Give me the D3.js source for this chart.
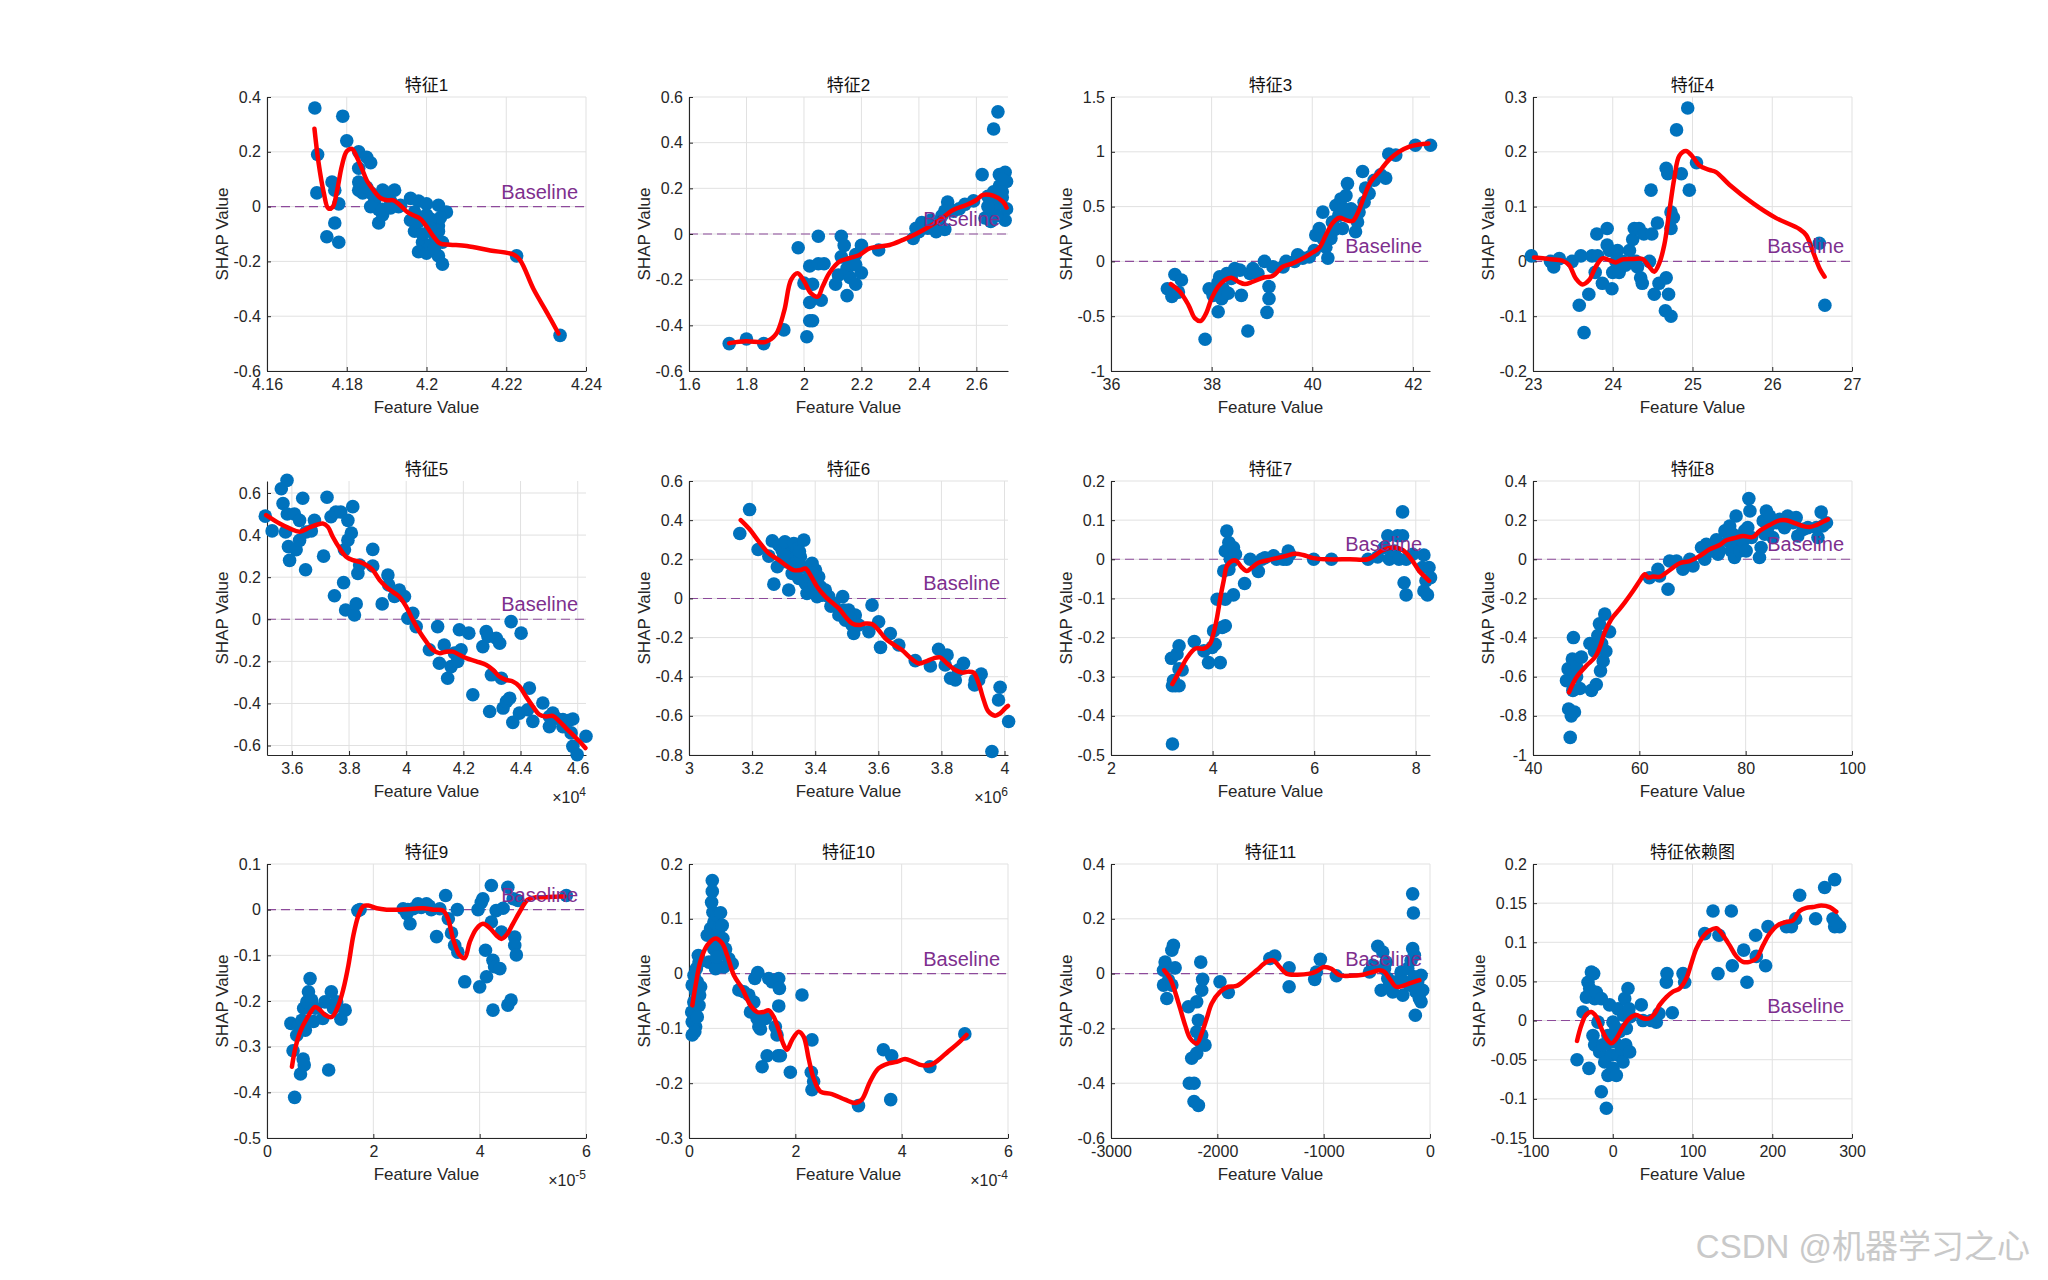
<!DOCTYPE html>
<html>
<head>
<meta charset="utf-8">
<script src="https://cdn.jsdelivr.net/npm/d3@7"></script>
<style>
  body { margin: 0; background: #fff; }
  text { font-family: "Liberation Sans", Arial, "Noto Sans CJK SC", sans-serif; }
</style>
</head>
<body>
<div id="canvas"></div>
<script>
"use strict"

let drawingWidth = 2048;
let drawingHeight = 1280;

/* panel titles, axis ranges and tick labels */
let panelTitles = ["特征1", "特征2", "特征3", "特征4", "特征5", "特征6",
    "特征7", "特征8", "特征9", "特征10", "特征11", "特征依赖图"];

let xDomains = [[4.16, 4.24], [1.6, 2.71], [36, 42.34], [23, 27],
    [3.513, 4.629], [3, 4.011], [2, 8.28], [40, 100],
    [0, 6], [0, 6], [-3000, 0], [-100, 300]];
let yDomains = [[-0.6, 0.4], [-0.6, 0.6], [-1, 1.5], [-0.2, 0.3],
    [-0.645, 0.657], [-0.8, 0.6], [-0.5, 0.2], [-1, 0.4],
    [-0.5, 0.1], [-0.3, 0.2], [-0.6, 0.4], [-0.15, 0.2]];

let xTicks = [[4.16, 4.18, 4.2, 4.22, 4.24], [1.6, 1.8, 2, 2.2, 2.4, 2.6], [36, 38, 40, 42], [23, 24, 25, 26, 27],
    [3.6, 3.8, 4, 4.2, 4.4, 4.6], [3, 3.2, 3.4, 3.6, 3.8, 4], [2, 4, 6, 8], [40, 60, 80, 100],
    [0, 2, 4, 6], [0, 2, 4, 6], [-3000, -2000, -1000, 0], [-100, 0, 100, 200, 300]];
let yTicks = [[-0.6, -0.4, -0.2, 0, 0.2, 0.4], [-0.6, -0.4, -0.2, 0, 0.2, 0.4, 0.6], [-1, -0.5, 0, 0.5, 1, 1.5], [-0.2, -0.1, 0, 0.1, 0.2, 0.3],
    [-0.6, -0.4, -0.2, 0, 0.2, 0.4, 0.6], [-0.8, -0.6, -0.4, -0.2, 0, 0.2, 0.4, 0.6], [-0.5, -0.4, -0.3, -0.2, -0.1, 0, 0.1, 0.2], [-1, -0.8, -0.6, -0.4, -0.2, 0, 0.2, 0.4],
    [-0.5, -0.4, -0.3, -0.2, -0.1, 0, 0.1], [-0.3, -0.2, -0.1, 0, 0.1, 0.2], [-0.6, -0.4, -0.2, 0, 0.2, 0.4], [-0.15, -0.1, -0.05, 0, 0.05, 0.1, 0.15, 0.2]];

/* x axis multiplier (x 10^n), 0 means none */
let xExponents = [0, 0, 0, 0, 4, 6, 0, 0, -5, -4, 0, 0];

/* SHAP scatter points [feature value, shap value] */
let scatter1 = [[4.172,0.36],[4.1727,0.19],[4.1725,0.05],[4.1763,0.09],[4.177,0.06],[4.178,0.01],[4.177,-0.06],[4.175,-0.11],
    [4.178,-0.13],[4.179,0.33],[4.180,0.24],[4.183,0.20],[4.185,0.18],[4.186,0.16],[4.183,0.14],[4.183,0.09],[4.183,0.06],
    [4.184,0.05],[4.187,0.02],[4.188,-0.01],[4.188,-0.06],[4.189,-0.03],[4.189,0.06],[4.190,0.05],[4.192,0.06],[4.191,0.02],
    [4.193,0.0],[4.1935,0.005],[4.187,0.035],[4.186,0.05],[4.196,0.03],[4.198,0.02],[4.200,0.01],[4.196,-0.05],[4.197,-0.09],
    [4.198,-0.055],[4.199,-0.13],[4.198,-0.165],[4.200,-0.17],[4.201,-0.14],[4.202,-0.105],[4.203,-0.07],[4.203,0.005],
    [4.205,-0.02],[4.2035,-0.04],[4.203,-0.09],[4.204,-0.13],[4.203,-0.18],[4.204,-0.21],[4.202,-0.15],[4.197,-0.02],
    [4.201,-0.045],[4.186,0.0],[4.189,-0.01],[4.185,0.07],[4.191,-0.005],[4.199,-0.1],[4.201,-0.08],[4.2,-0.03],
    [4.2226,-0.18],[4.2335,-0.47]];
let scatter2 = [[1.74,-0.48],[1.80,-0.46],[1.86,-0.48],[1.93,-0.42],[1.98,-0.06],[2.01,-0.45],[2.02,-0.38],[2.03,-0.38],
    [2.02,-0.30],[2.00,-0.215],[2.02,-0.14],[2.03,-0.22],[2.05,-0.01],[2.06,-0.29],[2.05,-0.13],[2.07,-0.13],[2.13,-0.01],
    [2.14,-0.05],[2.13,-0.10],[2.12,-0.18],[2.15,-0.27],[2.16,-0.19],[2.18,-0.22],[2.18,-0.09],[2.20,-0.05],[2.20,-0.17],
    [2.15,-0.15],[2.11,-0.22],[2.16,-0.135],[2.18,-0.135],[2.26,-0.07],[2.38,-0.02],[2.40,0.01],[2.43,0.025],[2.45,0.04],
    [2.47,0.055],[2.49,0.02],[2.46,0.01],[2.50,0.14],[2.52,0.10],[2.54,0.11],[2.56,0.13],[2.59,0.145],[2.62,0.26],[2.63,0.07],
    [2.65,0.055],[2.66,0.1],[2.67,0.13],[2.68,0.26],[2.69,0.185],[2.70,0.27],[2.705,0.23],[2.705,0.11],[2.68,0.21],[2.69,0.16],
    [2.67,0.165],[2.70,0.06],[2.66,0.185],[2.675,0.535],[2.66,0.46],[2.39,0.025],[2.41,0.05],[2.49,0.10],[2.64,0.165],
    [2.64,0.12],[2.67,0.08],[2.69,0.24],[2.44,0.06],[2.48,0.08]];
let scatter3 = [[37.12,-0.25],[37.21,-0.32],[37.27,-0.12],[37.40,-0.17],[37.34,-0.28],[37.87,-0.71],[37.95,-0.25],[38.03,-0.31],
    [38.13,-0.46],[38.13,-0.19],[38.20,-0.34],[38.23,-0.25],[38.33,-0.29],[38.16,-0.14],[38.30,-0.11],[38.39,-0.155],
    [38.46,-0.065],[38.59,-0.31],[38.56,-0.08],[38.72,-0.635],[38.76,-0.11],[38.82,-0.065],[38.92,-0.11],[39.05,0.0],
    [39.14,-0.23],[39.14,-0.34],[39.10,-0.465],[39.22,-0.05],[39.42,-0.05],[39.48,0.0],[39.65,0.0],[39.71,0.06],[39.81,0.03],
    [39.94,0.04],[40.04,0.10],[40.07,0.24],[40.14,0.30],[40.21,0.45],[40.27,0.13],[40.31,0.03],[40.37,0.21],[40.40,0.36],
    [40.47,0.51],[40.57,0.57],[40.60,0.30],[40.67,0.60],[40.70,0.71],[40.73,0.42],[40.77,0.48],[40.86,0.27],[40.90,0.36],
    [41.03,0.54],[41.06,0.67],[41.00,0.82],[41.13,0.62],[41.23,0.74],[41.36,0.79],[41.46,0.76],[41.52,0.98],[41.66,0.97],
    [42.05,1.06],[42.35,1.06],[40.53,0.42],[40.63,0.48],[40.44,0.29],[40.21,0.21],[40.93,0.45]];
let scatter4 = [[22.98,0.01],[23.22,0.0],[23.26,-0.01],[23.33,0.005],[23.49,0.0],[23.60,0.01],[23.58,-0.08],[23.64,-0.13],
    [23.70,-0.06],[23.74,0.01],[23.78,-0.02],[23.80,0.05],[23.81,0.01],[23.87,-0.04],[23.93,0.06],[23.93,0.03],[23.96,0.02],
    [23.99,-0.05],[24.0,-0.02],[24.06,0.02],[24.08,-0.02],[24.12,0.0],[24.21,0.02],[24.25,0.04],[24.27,0.06],[24.31,-0.01],
    [24.33,0.06],[24.35,-0.03],[24.37,-0.04],[24.39,0.05],[24.48,0.13],[24.46,0.0],[24.49,0.05],[24.52,-0.06],[24.56,0.07],
    [24.58,-0.04],[24.67,-0.03],[24.67,0.17],[24.69,0.16],[24.66,-0.09],[24.70,-0.06],[24.73,0.09],[24.75,0.08],[24.73,-0.1],
    [24.73,0.06],[24.76,0.08],[24.80,0.24],[24.86,0.16],[24.94,0.28],[24.96,0.13],[25.05,0.18],[26.59,0.033],[26.66,-0.08],
    [24.04,0.0],[24.16,-0.007],[24.29,0.0]];
let scatter5 = [[3.507,0.49],[3.531,0.42],[3.563,0.62],[3.583,0.66],[3.569,0.55],[3.578,0.415],[3.584,0.50],[3.588,0.345],
    [3.592,0.28],[3.609,0.50],[3.615,0.33],[3.627,0.47],[3.638,0.575],[3.648,0.235],[3.650,0.415],[3.627,0.375],[3.668,0.42],
    [3.679,0.47],[3.711,0.30],[3.723,0.58],[3.737,0.487],[3.749,0.112],[3.754,0.51],[3.771,0.51],[3.781,0.174],[3.784,0.33],
    [3.788,0.044],[3.796,0.47],[3.796,0.376],[3.808,0.41],[3.813,0.535],[3.819,0.02],[3.825,0.073],[3.831,0.218],[3.837,0.258],
    [3.883,0.332],[3.883,0.253],[3.916,0.073],[3.936,0.21],[3.939,0.163],[3.959,0.108],[3.976,0.139],[3.994,0.108],[4.006,0.005],
    [4.023,0.028],[4.035,-0.035],[4.081,-0.145],[4.11,-0.035],[4.116,-0.209],[4.133,-0.122],[4.145,-0.28],[4.157,-0.225],
    [4.169,-0.161],[4.180,-0.2],[4.192,-0.145],[4.186,-0.05],[4.219,-0.066],[4.233,-0.359],[4.268,-0.13],[4.28,-0.058],
    [4.286,-0.082],[4.292,-0.438],[4.298,-0.264],[4.315,-0.09],[4.327,-0.114],[4.333,-0.28],[4.339,-0.422],[4.351,-0.39],
    [4.362,-0.375],[4.367,-0.011],[4.373,-0.49],[4.402,-0.066],[4.396,-0.446],[4.425,-0.43],[4.431,-0.327],[4.443,-0.485],
    [4.478,-0.398],[4.501,-0.462],[4.513,-0.446],[4.524,-0.47],[4.548,-0.477],[4.571,-0.48],[4.583,-0.474],[4.577,-0.54],
    [4.583,-0.604],[4.598,-0.643],[4.629,-0.556],[4.501,-0.51],[4.548,-0.51]];
let scatter6 = [[3.161,0.332],[3.192,0.454],[3.219,0.25],[3.253,0.216],[3.264,0.294],[3.269,0.073],[3.280,0.162],[3.285,0.272],
    [3.295,0.247],[3.304,0.289],[3.316,0.043],[3.311,0.187],[3.322,0.23],[3.327,0.128],[3.332,0.281],[3.338,0.179],[3.343,0.255],
    [3.348,0.102],[3.353,0.213],[3.359,0.162],[3.364,0.298],[3.369,0.077],[3.374,0.026],[3.380,0.111],[3.390,0.179],[3.396,0.068],
    [3.401,0.145],[3.406,0.009],[3.411,0.111],[3.417,0.06],[3.422,0.017],[3.432,0.043],[3.443,0.009],[3.459,-0.026],[3.475,-0.085],
    [3.487,0.009],[3.496,-0.111],[3.506,-0.06],[3.517,-0.136],[3.522,-0.179],[3.527,-0.085],[3.538,-0.136],[3.570,-0.17],
    [3.580,-0.034],[3.601,-0.119],[3.607,-0.25],[3.638,-0.179],[3.665,-0.238],[3.717,-0.318],[3.765,-0.345],[3.791,-0.26],
    [3.818,-0.289],[3.812,-0.34],[3.829,-0.408],[3.844,-0.417],[3.870,-0.332],[3.905,-0.442],[3.926,-0.386],[3.918,-0.417],
    [3.960,-0.782],[3.981,-0.519],[3.986,-0.454],[4.013,-0.629],[3.854,-0.366],[3.907,-0.417],[3.30,0.22],[3.35,0.24],
    [3.39,0.13],[3.45,-0.04],[3.49,-0.06],[3.51,-0.1]];
let scatter7 = [[3.19,-0.253],[3.21,-0.323],[3.27,-0.323],[3.34,-0.323],[3.23,-0.31],[3.30,-0.242],[3.34,-0.221],[3.40,-0.283],
    [3.34,-0.28],[3.21,-0.472],[3.64,-0.21],[3.83,-0.234],[3.92,-0.264],[3.99,-0.225],[4.02,-0.183],[4.05,-0.217],[4.09,-0.102],
    [4.15,-0.264],[4.19,-0.174],[4.25,-0.17],[4.25,-0.102],[4.22,-0.03],[4.25,0.021],[4.28,0.072],[4.32,0.043],[4.35,0.021],
    [4.38,-0.004],[4.41,0.03],[4.32,-0.026],[4.35,0.0],[4.41,-0.091],[4.45,0.013],[4.63,-0.062],[4.74,0.0],[4.90,-0.031],
    [4.97,0.0],[5.03,0.004],[5.20,0.009],[5.26,0.0],[5.39,0.0],[5.49,0.021],[5.46,0.0],[5.52,0.013],[5.99,0.0],[6.34,0.0],
    [7.06,0.0],[7.25,0.006],[7.45,0.06],[7.48,0.0],[7.58,0.021],[7.64,0.06],[7.74,0.06],[7.74,0.121],[7.67,0.0],[7.77,-0.06],
    [7.81,-0.091],[7.81,0.0],[7.94,0.013],[8.16,0.011],[8.16,-0.081],[8.20,-0.055],[8.23,-0.091],[8.26,-0.021],[8.29,-0.047],
    [8.13,-0.021],[7.38,0.03]];
let scatter8 = [[46.3,-0.62],[46.6,-0.56],[46.7,-0.765],[47.0,-0.91],[47.2,-0.80],[47.5,-0.67],[47.8,-0.78],[47.6,-0.40],
    [47.4,-0.51],[48.2,-0.55],[48.2,-0.60],[48.8,-0.66],[49.1,-0.50],[50.7,-0.43],[51.0,-0.67],[51.6,-0.47],[51.9,-0.64],
    [52.2,-0.39],[52.5,-0.33],[52.7,-0.57],[52.9,-0.43],[53.2,-0.52],[53.5,-0.28],[53.7,-0.47],[54.4,-0.37],[61.9,-0.094],
    [63.5,-0.051],[63.8,-0.085],[65.4,-0.153],[65.7,-0.009],[67.0,-0.009],[68.2,-0.051],[69.5,0.0],[70.1,-0.034],[71.7,0.06],
    [72.3,0.0],[72.6,0.077],[73.5,0.043],[74.5,0.10],[74.8,0.026],[75.1,0.043],[76.1,0.145],[76.7,0.094],[77.0,0.17],[77.3,0.043],
    [77.6,0.128],[77.9,0.009],[78.2,0.221],[78.6,0.077],[78.9,0.043],[79.5,0.094],[79.8,0.145],[80.1,0.043],[80.6,0.31],
    [80.8,0.247],[80.4,0.162],[81.1,0.111],[82.6,0.009],[82.9,0.06],[83.3,0.196],[83.6,0.128],[83.9,0.247],[84.2,0.162],
    [84.5,0.221],[85.1,0.111],[85.8,0.187],[86.4,0.204],[87.3,0.162],[87.9,0.221],[88.9,0.187],[89.5,0.213],[89.8,0.119],
    [90.8,0.153],[91.7,0.162],[93.3,0.162],[93.6,0.111],[94.2,0.241],[95.2,0.187],[94.5,0.17]];
let scatter9 = [[0.45,-0.249],[0.49,-0.309],[0.52,-0.411],[0.56,-0.275],[0.59,-0.253],[0.63,-0.36],[0.66,-0.242],[0.68,-0.327],
    [0.70,-0.34],[0.69,-0.216],[0.72,-0.264],[0.75,-0.202],[0.78,-0.18],[0.81,-0.151],[0.84,-0.198],[0.875,-0.245],[0.906,-0.216],
    [1.05,-0.238],[1.09,-0.202],[1.16,-0.351],[1.21,-0.18],[1.25,-0.216],[1.31,-0.202],[1.39,-0.24],[1.47,-0.22],[1.71,-0.002],
    [1.75,0.0],[2.56,0.002],[2.63,-0.009],[2.69,-0.031],[2.75,0.002],[2.84,0.013],[3.0,0.013],[3.09,0.0],[3.19,-0.059],[3.25,0.002],
    [3.36,0.031],[3.41,-0.02],[3.47,-0.051],[3.53,-0.078],[3.58,0.0],[3.59,-0.093],[3.72,-0.158],[3.97,0.0],[4.0,-0.169],
    [4.03,0.016],[4.06,0.024],[4.11,-0.089],[4.13,-0.147],[4.22,0.053],[4.22,-0.027],[4.25,-0.111],[4.25,-0.22],[4.28,-0.125],
    [4.31,-0.002],[4.38,-0.129],[4.41,-0.049],[4.44,0.003],[4.53,0.049],[4.53,-0.209],[4.59,-0.198],[4.63,0.024],[4.66,-0.06],
    [4.66,-0.078],[4.69,-0.099],[4.72,0.02],[5.63,0.031],[2.9,0.005],[3.05,0.008],[2.65,0.0]];
let scatter10 = [[0.06,-0.112],[0.06,-0.088],[0.05,-0.07],[0.09,-0.052],[0.125,-0.033],[0.156,-0.015],[0.094,-0.003],[0.138,0.009],
    [0.188,0.021],[0.175,0.033],[0.125,-0.097],[0.156,-0.079],[0.188,-0.058],[0.2,-0.039],[0.06,-0.021],[0.11,-0.106],[0.219,-0.024],
    [0.438,0.17],[0.438,0.15],[0.425,0.13],[0.45,0.112],[0.406,0.082],[0.469,0.094],[0.5,0.07],[0.531,0.106],[0.594,0.111],
    [0.563,0.082],[0.625,0.088],[0.638,0.064],[0.469,0.045],[0.563,0.039],[0.656,0.012],[0.688,0.045],[0.75,0.027],[0.813,0.018],
    [0.375,0.021],[0.5,0.009],[0.344,0.07],[0.938,-0.03],[1.031,-0.033],[1.125,-0.039],[1.156,-0.07],[1.219,-0.052],[1.238,-0.009],
    [1.294,0.002],[1.281,-0.082],[1.313,-0.097],[1.344,-0.101],[1.375,-0.17],[1.438,-0.082],[1.469,-0.15],[1.5,-0.009],
    [1.563,-0.015],[1.625,-0.097],[1.656,-0.112],[1.688,-0.009],[1.7,-0.027],[1.688,-0.059],[1.675,-0.15],[1.719,-0.15],
    [1.906,-0.18],[2.125,-0.039],[2.313,-0.121],[2.3,-0.18],[2.313,-0.212],[2.344,-0.197],[3.188,-0.241],[3.656,-0.139],
    [3.813,-0.15],[3.794,-0.23],[4.531,-0.17],[5.188,-0.11],[0.45,0.05],[0.52,0.03],[0.6,0.06]];
let scatter11 = [[-2506,0.012],[-2506,-0.042],[-2491,0.042],[-2475,-0.091],[-2459,-0.024],[-2428,0.085],[-2413,0.103],[-2397,0.021],
    [-2428,-0.042],[-2272,-0.121],[-2263,-0.4],[-2219,-0.4],[-2241,-0.309],[-2219,-0.467],[-2194,-0.291],[-2178,-0.481],
    [-2194,-0.103],[-2194,-0.212],[-2178,-0.17],[-2163,-0.248],[-2156,0.042],[-2147,-0.061],[-2147,-0.224],[-2138,-0.021],
    [-2116,-0.261],[-1975,-0.03],[-1897,-0.069],[-1506,0.055],[-1459,0.064],[-1325,0.021],[-1325,-0.048],[-1084,-0.021],
    [-1069,0.006],[-1031,0.052],[-881,-0.008],[-569,0.006],[-491,0.1],[-444,0.079],[-459,-0.061],[-428,0.018],[-413,0.042],
    [-397,-0.018],[-381,-0.042],[-350,-0.067],[-319,-0.03],[-272,0.006],[-256,-0.079],[-241,-0.03],[-209,0.018],[-194,-0.042],
    [-178,0.048],[-163,0.091],[-163,0.291],[-156,0.221],[-147,-0.012],[-131,-0.067],[-138,-0.152],[-116,-0.03],[-100,-0.091],
    [-84,-0.006],[-69,-0.061],[-84,-0.103],[-147,0.067],[-538,0.03]];
let scatter12 = [[-44.8,-0.05],[-37.3,0.011],[-29.8,-0.061],[-31.0,0.049],[-26.8,0.062],[-23.9,0.06],[-28.9,0.041],[-33.1,0.03],
    [-26.8,0.036],[-22.7,0.028],[-20.6,0.036],[-24.8,-0.019],[-22.7,-0.031],[-18.5,-0.002],[-14.3,0.028],[-14.3,-0.091],
    [-16.4,-0.04],[-12.2,-0.031],[-8.0,-0.112],[-10.1,-0.053],[-6.0,-0.019],[-6.0,-0.07],[-3.9,0.02],[-1.8,-0.044],[0.3,-0.061],
    [0.3,-0.002],[2.4,-0.027],[4.5,-0.07],[6.6,0.015],[6.6,-0.044],[8.7,-0.014],[10.8,-0.036],[12.9,-0.053],[13.7,0.007],
    [15.0,0.028],[16.2,-0.031],[17.0,-0.01],[19.1,0.041],[21.2,-0.04],[20.4,0.015],[22.0,0.005],[35.8,0.02],[37.9,0.0],
    [48.4,0.0],[54.6,-0.002],[58.0,0.009],[67.2,0.049],[68.0,0.06],[74.7,0.01],[88.1,0.06],[90.2,0.049],[115.3,0.111],
    [125.7,0.14],[132.0,0.06],[133.2,0.109],[148.7,0.14],[149.9,0.07],[164.2,0.09],[168.3,0.049],[179.2,0.109],[180.0,0.082],
    [191.7,0.07],[194.7,0.12],[217.7,0.12],[224.0,0.12],[229.4,0.13],[234.4,0.16],[254.4,0.13],[265.7,0.17],[276.2,0.13],
    [278.3,0.18],[278.3,0.12],[284.5,0.12],[280.3,0.125],[-2,-0.02],[-8,-0.03],[4,-0.01]];

/* smoothed trend */
let trend1 = [[4.1719,0.284],[4.1729,0.163],[4.1742,0.053],[4.1754,-0.007],[4.1765,-0.001],[4.1775,0.053],[4.1788,0.15],
    [4.18,0.202],[4.1813,0.211],[4.1825,0.181],[4.1838,0.139],[4.185,0.096],[4.1867,0.06],[4.1884,0.032],[4.1901,0.023],
    [4.1917,0.023],[4.1934,0.005],[4.1951,-0.019],[4.1967,-0.032],[4.1984,-0.044],[4.2001,-0.074],[4.2018,-0.11],
    [4.2034,-0.135],[4.2059,-0.139],[4.2101,-0.144],[4.216,-0.16],[4.2218,-0.175],[4.2235,-0.196],[4.2268,-0.3],
    [4.2301,-0.384],[4.2331,-0.463]];
let trend2 = [[1.74,-0.478],[1.798,-0.47],[1.867,-0.472],[1.902,-0.44],[1.931,-0.338],[1.955,-0.201],[1.978,-0.172],
    [2.001,-0.208],[2.024,-0.259],[2.048,-0.274],[2.065,-0.23],[2.088,-0.172],[2.123,-0.121],[2.158,-0.106],[2.193,-0.092],
    [2.228,-0.063],[2.263,-0.055],[2.298,-0.048],[2.344,-0.026],[2.379,-0.007],[2.426,0.025],[2.472,0.061],[2.519,0.105],
    [2.565,0.127],[2.6,0.149],[2.623,0.171],[2.658,0.168],[2.693,0.141],[2.705,0.115]];
let trend3 = [[37.19,-0.207],[37.37,-0.277],[37.54,-0.398],[37.67,-0.52],[37.78,-0.544],[37.89,-0.474],[38.0,-0.337],
    [38.13,-0.231],[38.26,-0.17],[38.39,-0.149],[38.53,-0.185],[38.66,-0.207],[38.82,-0.185],[39.02,-0.149],[39.22,-0.131],
    [39.41,-0.049],[39.61,-0.018],[39.81,0.027],[40.01,0.082],[40.14,0.125],[40.27,0.24],[40.4,0.347],[40.54,0.398],
    [40.67,0.377],[40.8,0.368],[40.9,0.438],[41.03,0.59],[41.16,0.727],[41.33,0.817],[41.52,0.924],[41.72,1.0],[41.92,1.046],
    [42.12,1.067],[42.31,1.076]];
let trend4 = [[23.013,0.0073],[23.2,0.0043],[23.369,0.0012],[23.452,-0.0067],[23.536,-0.031],[23.62,-0.042],[23.704,-0.034],
    [23.787,-0.0097],[23.871,0.0055],[23.955,0.0024],[24.039,-0.0018],[24.123,0.0036],[24.248,0.0043],[24.374,0.0043],
    [24.458,-0.0097],[24.52,-0.0188],[24.583,-0.0036],[24.646,0.0298],[24.709,0.091],[24.772,0.1519],[24.835,0.193],
    [24.918,0.2016],[25.002,0.191],[25.086,0.175],[25.211,0.167],[25.295,0.163],[25.463,0.14],[25.756,0.1063],[26.049,0.079],
    [26.342,0.059],[26.426,0.048],[26.51,0.018],[26.594,-0.0128],[26.656,-0.028]];
let trend5 = [[3.51,0.495],[3.557,0.455],[3.592,0.432],[3.627,0.416],[3.662,0.436],[3.708,0.455],[3.726,0.439],[3.743,0.392],
    [3.767,0.337],[3.79,0.297],[3.813,0.281],[3.837,0.273],[3.86,0.258],[3.883,0.234],[3.907,0.186],[3.93,0.154],[3.953,0.13],
    [3.976,0.107],[4.0,0.06],[4.023,-0.003],[4.046,-0.058],[4.07,-0.106],[4.093,-0.145],[4.116,-0.161],[4.14,-0.154],
    [4.163,-0.154],[4.186,-0.169],[4.21,-0.185],[4.245,-0.2],[4.279,-0.216],[4.303,-0.24],[4.326,-0.272],[4.349,-0.288],
    [4.373,-0.296],[4.396,-0.319],[4.419,-0.367],[4.443,-0.414],[4.466,-0.453],[4.489,-0.462],[4.513,-0.459],[4.536,-0.485],
    [4.559,-0.517],[4.583,-0.549],[4.606,-0.58],[4.627,-0.612]];
let trend6 = [[3.164,0.4],[3.19,0.357],[3.222,0.289],[3.253,0.23],[3.285,0.196],[3.306,0.17],[3.332,0.145],[3.353,0.145],
    [3.369,0.153],[3.385,0.119],[3.406,0.06],[3.432,0.009],[3.454,-0.022],[3.475,-0.051],[3.496,-0.094],[3.517,-0.128],
    [3.538,-0.136],[3.559,-0.128],[3.58,-0.131],[3.601,-0.162],[3.622,-0.204],[3.643,-0.23],[3.675,-0.264],[3.707,-0.311],
    [3.728,-0.332],[3.749,-0.323],[3.775,-0.306],[3.796,-0.301],[3.818,-0.332],[3.844,-0.366],[3.865,-0.379],[3.886,-0.374],
    [3.902,-0.379],[3.918,-0.434],[3.934,-0.519],[3.949,-0.578],[3.97,-0.599],[3.986,-0.587],[4.002,-0.561],[4.011,-0.549]];
let trend7 = [[3.207,-0.319],[3.37,-0.281],[3.5,-0.251],[3.663,-0.228],[3.826,-0.228],[3.944,-0.217],[4.022,-0.187],
    [4.087,-0.149],[4.153,-0.098],[4.218,-0.055],[4.283,-0.017],[4.381,-0.004],[4.466,-0.004],[4.577,-0.021],[4.674,-0.03],
    [4.772,-0.021],[4.903,-0.009],[5.066,-0.003],[5.262,0.003],[5.457,0.009],[5.62,0.014],[5.783,0.011],[5.979,0.003],
    [6.24,0.0],[6.697,0.0],[7.055,0.0],[7.186,0.009],[7.349,0.023],[7.545,0.03],[7.708,0.026],[7.806,0.017],[7.936,-0.004],
    [8.067,-0.03],[8.197,-0.047],[8.262,-0.055]];
let trend8 = [[46.77,-0.68],[48.15,-0.604],[50.03,-0.544],[51.6,-0.502],[52.54,-0.451],[53.48,-0.374],[54.73,-0.306],
    [55.99,-0.264],[57.24,-0.221],[58.81,-0.162],[60.06,-0.111],[61.0,-0.077],[61.63,-0.093],[62.57,-0.088],[63.82,-0.09],
    [65.08,-0.068],[66.33,-0.043],[67.59,-0.02],[69.47,-0.009],[71.35,0.017],[73.23,0.051],[75.11,0.073],[76.36,0.097],
    [78.24,0.111],[79.5,0.119],[81.38,0.114],[82.63,0.145],[84.51,0.175],[86.39,0.199],[87.65,0.199],[89.53,0.182],
    [90.78,0.17],[92.04,0.165],[93.29,0.175],[94.55,0.192],[95.49,0.204]];
let trend9 = [[0.469,-0.344],[0.531,-0.304],[0.625,-0.267],[0.75,-0.238],[0.906,-0.213],[1.0,-0.22],[1.094,-0.231],
    [1.219,-0.235],[1.344,-0.209],[1.438,-0.173],[1.531,-0.122],[1.625,-0.056],[1.719,-0.013],[1.813,0.008],[1.906,0.009],
    [2.063,0.003],[2.25,0.0],[2.5,0.0],[2.75,0.002],[2.938,0.003],[3.125,0.0],[3.313,-0.002],[3.406,-0.02],[3.5,-0.064],
    [3.625,-0.1],[3.719,-0.106],[3.813,-0.071],[3.938,-0.042],[4.063,-0.031],[4.188,-0.04],[4.313,-0.056],[4.406,-0.064],
    [4.5,-0.056],[4.625,-0.031],[4.75,-0.005],[4.906,0.022],[5.063,0.027],[5.25,0.027],[5.5,0.029],[5.594,0.029]];
let trend10 = [[0.0625,-0.058],[0.125,-0.021],[0.219,0.024],[0.344,0.052],[0.5,0.064],[0.625,0.055],[0.719,0.033],
    [0.844,-0.003],[1.0,-0.027],[1.156,-0.058],[1.281,-0.07],[1.406,-0.07],[1.5,-0.067],[1.594,-0.079],[1.688,-0.103],
    [1.781,-0.13],[1.844,-0.139],[1.938,-0.121],[2.063,-0.106],[2.156,-0.115],[2.25,-0.155],[2.344,-0.191],[2.469,-0.215],
    [2.688,-0.22],[2.938,-0.23],[3.125,-0.236],[3.25,-0.23],[3.406,-0.197],[3.563,-0.173],[3.75,-0.164],[3.906,-0.161],
    [4.063,-0.156],[4.219,-0.161],[4.375,-0.167],[4.531,-0.167],[4.688,-0.158],[4.875,-0.142],[5.063,-0.127],[5.219,-0.112]];
let trend11 = [[-2500,0.012],[-2444,-0.018],[-2397,-0.067],[-2350,-0.127],[-2303,-0.188],[-2256,-0.236],[-2194,-0.255],
    [-2147,-0.218],[-2100,-0.164],[-2053,-0.109],[-1975,-0.067],[-1897,-0.048],[-1819,-0.045],[-1725,-0.018],[-1631,0.012],
    [-1538,0.042],[-1475,0.048],[-1413,0.024],[-1350,0.0],[-1256,-0.004],[-1131,0.0],[-1069,0.008],[-1000,0.024],[-928,0.018],
    [-850,-0.006],[-756,-0.008],[-631,-0.004],[-538,0.006],[-475,0.012],[-428,0.006],[-381,-0.018],[-319,-0.048],[-256,-0.045],
    [-194,-0.036],[-100,-0.024]];
let trend12 = [[-44.8,-0.026],[-39.4,-0.006],[-33.1,0.008],[-26.9,0.011],[-20.6,0.005],[-14.3,-0.01],[-8.0,-0.023],
    [-1.8,-0.029],[4.5,-0.023],[12.9,-0.008],[21.2,0.003],[29.6,0.007],[37.9,0.003],[46.3,0.003],[52.6,0.009],[58.8,0.02],
    [67.2,0.03],[75.5,0.037],[83.9,0.041],[92.3,0.054],[98.5,0.073],[104.8,0.092],[113.2,0.107],[121.5,0.115],[129.9,0.118],
    [138.2,0.109],[146.6,0.096],[155.0,0.082],[163.3,0.075],[171.7,0.075],[180.0,0.079],[188.4,0.096],[196.8,0.111],
    [207.2,0.122],[217.7,0.126],[226.0,0.128],[234.4,0.14],[242.7,0.144],[251.1,0.145],[261.5,0.147],[272.0,0.145],[280.3,0.139]];

let scatters = [scatter1, scatter2, scatter3, scatter4, scatter5, scatter6,
    scatter7, scatter8, scatter9, scatter10, scatter11, scatter12];
let trends = [trend1, trend2, trend3, trend4, trend5, trend6,
    trend7, trend8, trend9, trend10, trend11, trend12];

/* layout of the 3 x 4 grid of axes */
let panelLefts = [267, 689, 1111, 1533];
let panelTops = [97, 481, 864];
let panelWidth = 319;
let panelHeight = 274;

let axisColor = "#262626";
let gridColor = "#e1e1e1";
let dotColor = "#0072bd";
let baseColor = "#7e2f8e";

let drawing = d3.select("#canvas")
    .append("svg")
    .attr("width", drawingWidth)
    .attr("height", drawingHeight);

drawing.append("rect")
    .attr("width", drawingWidth)
    .attr("height", drawingHeight)
    .attr("fill", "white");

function drawPanel(i) {
    let left = panelLefts[i % 4];
    let top = panelTops[Math.floor(i / 4)];
    let right = left + panelWidth;
    let bottom = top + panelHeight;

    let x = d3.scaleLinear().domain(xDomains[i]).range([left, right]);
    let y = d3.scaleLinear().domain(yDomains[i]).range([bottom, top]);

    let g = drawing.append("g");

    /* grid */
    g.selectAll(".vgrid").data(xTicks[i]).enter().append("line")
        .attr("x1", d => x(d)).attr("x2", d => x(d))
        .attr("y1", top).attr("y2", bottom)
        .attr("stroke", gridColor).attr("stroke-width", 1);
    g.selectAll(".hgrid").data(yTicks[i]).enter().append("line")
        .attr("x1", left).attr("x2", right)
        .attr("y1", d => y(d)).attr("y2", d => y(d))
        .attr("stroke", gridColor).attr("stroke-width", 1);

    /* baseline at zero */
    g.append("line")
        .attr("x1", left).attr("x2", right)
        .attr("y1", y(0)).attr("y2", y(0))
        .attr("stroke", baseColor)
        .attr("stroke-opacity", 0.85)
        .attr("stroke-width", 1.1)
        .attr("stroke-dasharray", "9,5");

    /* axes */
    let xAxis = g.append("g")
        .attr("transform", "translate(0," + bottom + ")")
        .call(d3.axisBottom(x).tickValues(xTicks[i]).tickFormat(d => String(d))
            .tickSizeInner(-4).tickSizeOuter(0).tickPadding(8));
    let yAxis = g.append("g")
        .attr("transform", "translate(" + left + ",0)")
        .call(d3.axisLeft(y).tickValues(yTicks[i]).tickFormat(d => String(d))
            .tickSizeInner(-4).tickSizeOuter(0).tickPadding(6));

    [xAxis, yAxis].forEach(a => {
        a.select(".domain").attr("stroke", axisColor).attr("stroke-width", 1.1);
        a.selectAll(".tick line").attr("stroke", axisColor);
        a.selectAll(".tick text")
            .attr("fill", axisColor)
            .style("font-size", "16px");
    });

    /* scatter points */
    g.selectAll(".dot").data(scatters[i]).enter().append("circle")
        .attr("cx", d => x(d[0]))
        .attr("cy", d => y(d[1]))
        .attr("r", 6.8)
        .attr("fill", dotColor);

    /* red trend line */
    let line = d3.line()
        .x(d => x(d[0]))
        .y(d => y(d[1]))
        .curve(d3.curveCatmullRom.alpha(0.5));
    g.append("path")
        .datum(trends[i])
        .attr("d", line)
        .attr("fill", "none")
        .attr("stroke", "#f00")
        .attr("stroke-width", 4.5)
        .attr("stroke-linejoin", "round")
        .attr("stroke-linecap", "round");

    /* baseline label */
    g.append("text")
        .attr("x", right - 8)
        .attr("y", y(0) - 15)
        .attr("dy", "0.35em")
        .attr("text-anchor", "end")
        .attr("fill", baseColor)
        .style("font-size", "20px")
        .text("Baseline");

    /* title */
    g.append("text")
        .attr("x", (left + right) / 2)
        .attr("y", top - 6)
        .attr("text-anchor", "middle")
        .attr("fill", "#111")
        .style("font-size", "17px")
        .text(panelTitles[i]);

    /* x label */
    g.append("text")
        .attr("x", (left + right) / 2)
        .attr("y", bottom + 42)
        .attr("text-anchor", "middle")
        .attr("fill", axisColor)
        .style("font-size", "17px")
        .text("Feature Value");

    /* y label, placed left of the widest tick label */
    let tickW = 0;
    yAxis.selectAll(".tick text").each(function() {
        tickW = Math.max(tickW, this.getComputedTextLength());
    });
    let ylx = left - 6 - tickW - 11;
    g.append("text")
        .attr("transform", "translate(" + ylx + "," + ((top + bottom) / 2) + ") rotate(-90)")
        .attr("dy", "0.35em")
        .attr("text-anchor", "middle")
        .attr("fill", axisColor)
        .style("font-size", "17px")
        .text("SHAP Value");

    /* exponent of x axis */
    if (xExponents[i] !== 0) {
        let ex = g.append("text")
            .attr("x", right)
            .attr("y", bottom + 48)
            .attr("text-anchor", "end")
            .attr("fill", axisColor)
            .style("font-size", "16px");
        ex.append("tspan").text("\u00d710");
        ex.append("tspan")
            .attr("dy", -7)
            .style("font-size", "12px")
            .text(String(xExponents[i]));
    }
}

for (let i = 0; i < 12; i++) {
    drawPanel(i);
}

/* watermark */
drawing.append("text")
    .attr("x", 2030)
    .attr("y", 1258)
    .attr("text-anchor", "end")
    .attr("fill", "#c9c9c9")
    .style("font-size", "33px")
    .style("font-family", "\"Liberation Sans\", \"Noto Sans CJK SC\", sans-serif")
    .text("CSDN @机器学习之心");
</script>
</body>
</html>
